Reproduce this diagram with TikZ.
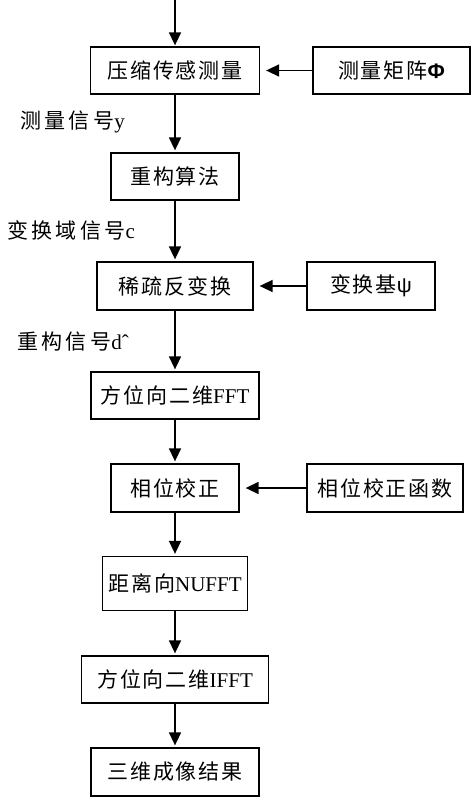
\documentclass[tikz,border=0pt]{standalone}
\usepackage{fontspec}
\setmainfont{Liberation Serif}
\newfontfamily\cjk[LetterSpace=9]{Noto Sans CJK SC}
\newfontfamily\cjklab[LetterSpace=16]{Noto Sans CJK SC}
\newfontfamily\symf{Liberation Sans}
\usetikzlibrary{arrows.meta}
\tikzset{
  box/.style={draw, line width=1.3pt, minimum width=#1, minimum height=47pt, inner sep=0pt,
    font=\fontsize{21}{24}\selectfont},
  lab/.style={inner sep=0pt, anchor=west, font=\fontsize{21}{24}\selectfont},
  arr/.style={-{Triangle[length=13pt,width=12pt]}, line width=1.6pt},
}
\begin{document}
\begin{tikzpicture}[x=1pt,y=-1pt]
\useasboundingbox (0,0) rectangle (474,801);
\coordinate (top) at (175,0);
\node[box=169pt] (b1) at (175,70.5) {\cjk 压缩传感测量};
\node[box=157pt] (m1) at (391.5,70.5) {{\cjk 测量矩阵}{\symf\bfseries Φ}};
\node[box=128pt] (b2) at (175,176.5) {\cjk 重构算法};
\node[box=156pt, minimum height=48pt] (b3) at (175,286) {\cjk 稀疏反变换};
\node[box=128pt, minimum height=48pt] (m3) at (371,286) {{\cjk 变换基}{\symf ψ}};
\node[box=168pt] (b4) at (175,395.5) {{\cjk 方位向二维}FFT};
\node[box=128pt, minimum height=48pt] (b5) at (175,488) {\cjk 相位校正};
\node[box=156pt, minimum height=48pt] (m5) at (385,488) {\cjk 相位校正函数};
\node[box=145pt, minimum height=54pt] (b6) at (175,583.5) {{\cjk 距离向}NUFFT};
\node[box=187pt] (b7) at (175,679.5) {{\cjk 方位向二维}IFFT};
\node[box=168pt, minimum height=48pt] (b8) at (175,772) {\cjk 三维成像结果};
\node[lab] (l1) at (20,122) {{\cjklab 测量信号}y};
\node[lab] (l2) at (7,230) {{\cjklab 变换域信号}c};
\node[lab] (l3) at (17,342) {{\cjklab 重构信号}dˆ};
\draw[arr, shorten >=1pt] (top) -- (b1);
\draw[arr, shorten >=2pt] (b1) -- (b2);
\draw[arr, shorten >=2pt] (b2) -- (b3);
\draw[arr, shorten >=2pt] (b3) -- (b4);
\draw[arr, shorten >=2pt] (b4) -- (b5);
\draw[arr, shorten >=2pt] (b5) -- (b6);
\draw[arr, shorten >=2pt] (b6) -- (b7);
\draw[arr, shorten >=2pt] (b7) -- (b8);
\draw[arr, shorten >=6pt] (m1) -- (b1);
\draw[arr, shorten >=6pt] (m3) -- (b3);
\draw[arr, shorten >=6pt] (m5) -- (b5);
\end{tikzpicture}
\end{document}
